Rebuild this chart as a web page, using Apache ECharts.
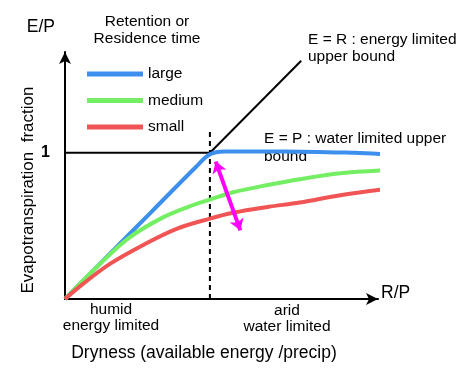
<!DOCTYPE html>
<html>
<head>
<meta charset="utf-8">
<script src="https://cdn.jsdelivr.net/npm/echarts@6/dist/echarts.min.js"></script>
<style>
  html, body { margin: 0; padding: 0; background: #fff; }
  #chart { width: 474px; height: 376px; }
</style>
</head>
<body>
<div id="chart"></div>
<script>
// curves: [R/P, E/P]
const largeCurve = [[0, 0], [0.3, 0.3], [0.6, 0.6], [0.9, 0.9], [1.0, 0.99], [1.1, 1.01], [1.5, 1.01], [2.0, 1.0], [2.2, 0.99]];
const mediumCurve = [[0, 0], [0.2, 0.2], [0.43, 0.41], [0.66, 0.55], [0.85, 0.63], [1.0, 0.68], [1.16, 0.73], [1.4, 0.78], [1.62, 0.82], [1.9, 0.86], [2.2, 0.88]];
const smallCurve = [[0, 0], [0.12, 0.1], [0.31, 0.24], [0.54, 0.37], [0.77, 0.48], [1.0, 0.55], [1.16, 0.59], [1.4, 0.63], [1.62, 0.66], [1.9, 0.71], [2.2, 0.75]];
const energyLimit = [[0, 0], [1.63, 1.63]];
const waterLimit = [[0, 1], [1, 1]];
const dividerLine = [[1, 0], [1, 1.16]];
const shiftArrow = [[1.04, 0.94], [1.21, 0.47]];
const legendNames = ['large', 'medium', 'small'];
const curveColors = ['#3d8fee', '#74ee62', '#f15454'];
const yTickLabels = { 1: '1' };

const chart = echarts.init(document.getElementById('chart'));
const font = 'Liberation Sans, Arial, sans-serif';

function curve(name, data, color) {
  return {
    name: name,
    type: 'line',
    data: data,
    smooth: 0.35,
    showSymbol: false,
    lineStyle: { color: color, width: 4 },
    itemStyle: { color: color },
    z: 3
  };
}

function blackLine(data, dashed) {
  return {
    type: 'line',
    data: data,
    showSymbol: false,
    silent: true,
    lineStyle: { color: '#000', width: 2, type: dashed ? [5, 4] : 'solid' },
    z: 2
  };
}

function label(x, y, text, size, align, lh) {
  return {
    type: 'text', x: x, y: y,
    style: { text: text, font: size + 'px ' + font, fill: '#000', align: align, verticalAlign: 'middle', lineHeight: lh }
  };
}

const option = {
  animation: false,
  grid: { left: 65, top: 52, right: 96, bottom: 77 },
  xAxis: {
    type: 'value',
    min: 0,
    max: 2.16,
    splitLine: { show: false },
    axisTick: { show: false },
    axisLabel: { show: false },
    axisLine: { lineStyle: { color: '#000', width: 2 }, symbol: ['none', 'arrow'], symbolSize: [9, 12] },
    name: 'R/P',
    nameLocation: 'end',
    nameGap: 3,
    nameTextStyle: { color: '#000', fontSize: 17.5, fontFamily: font, verticalAlign: 'bottom', padding: [0, 0, -3, 0] }
  },
  yAxis: {
    type: 'value',
    min: 0,
    max: 1.69,
    interval: 1,
    splitLine: { show: false },
    axisTick: { show: false },
    axisLabel: {
      color: '#000', fontSize: 16, fontWeight: 'bold', fontFamily: font, margin: 15,
      formatter: v => yTickLabels[v] || ''
    },
    axisLine: { lineStyle: { color: '#000', width: 2 }, symbol: ['none', 'arrow'], symbolSize: [9, 12] },
    name: 'E/P',
    nameLocation: 'end',
    nameGap: 16,
    nameTextStyle: { color: '#000', fontSize: 17.5, fontFamily: font, align: 'right', padding: [0, 10, 0, 0] }
  },
  legend: {
    data: legendNames,
    orient: 'vertical',
    left: 82,
    top: 61,
    icon: 'rect',
    itemWidth: 56,
    itemHeight: 5,
    itemGap: 10.5,
    textStyle: { color: '#000', fontSize: 15.5, fontFamily: font, lineHeight: 17, padding: [-5, 0, 0, 0] }
  },
  graphic: [
    label(147, 30, 'Retention or\nResidence time', 15.5, 'center', 17),
    label(308, 48.5, 'E = R : energy limited\nupper bound', 15.5, 'left', 17),
    label(264, 148, 'E = P : water limited upper\nbound', 15.5, 'left', 18),
    label(111, 318, 'humid\nenergy limited', 15.5, 'center', 16),
    label(287, 319, 'arid\nwater limited', 15.5, 'center', 16),
    label(204, 353, 'Dryness (available energy /precip)', 17.5, 'center', 18),
    Object.assign(label(28, 190, 'Evapotranspiration  fraction', 17, 'center', 18), { rotation: Math.PI / 2 })
  ],
  series: [
    blackLine(energyLimit, false),
    blackLine(waterLimit, false),
    blackLine(dividerLine, true),
    curve(legendNames[0], largeCurve, curveColors[0]),
    curve(legendNames[1], mediumCurve, curveColors[1]),
    curve(legendNames[2], smallCurve, curveColors[2]),
    {
      type: 'lines',
      coordinateSystem: 'cartesian2d',
      data: [{ coords: shiftArrow }],
      symbol: ['arrow', 'arrow'],
      symbolSize: 11,
      lineStyle: { color: '#ff00ff', width: 4, opacity: 1 },
      z: 4
    }
  ]
};

chart.setOption(option);
</script>
</body>
</html>
